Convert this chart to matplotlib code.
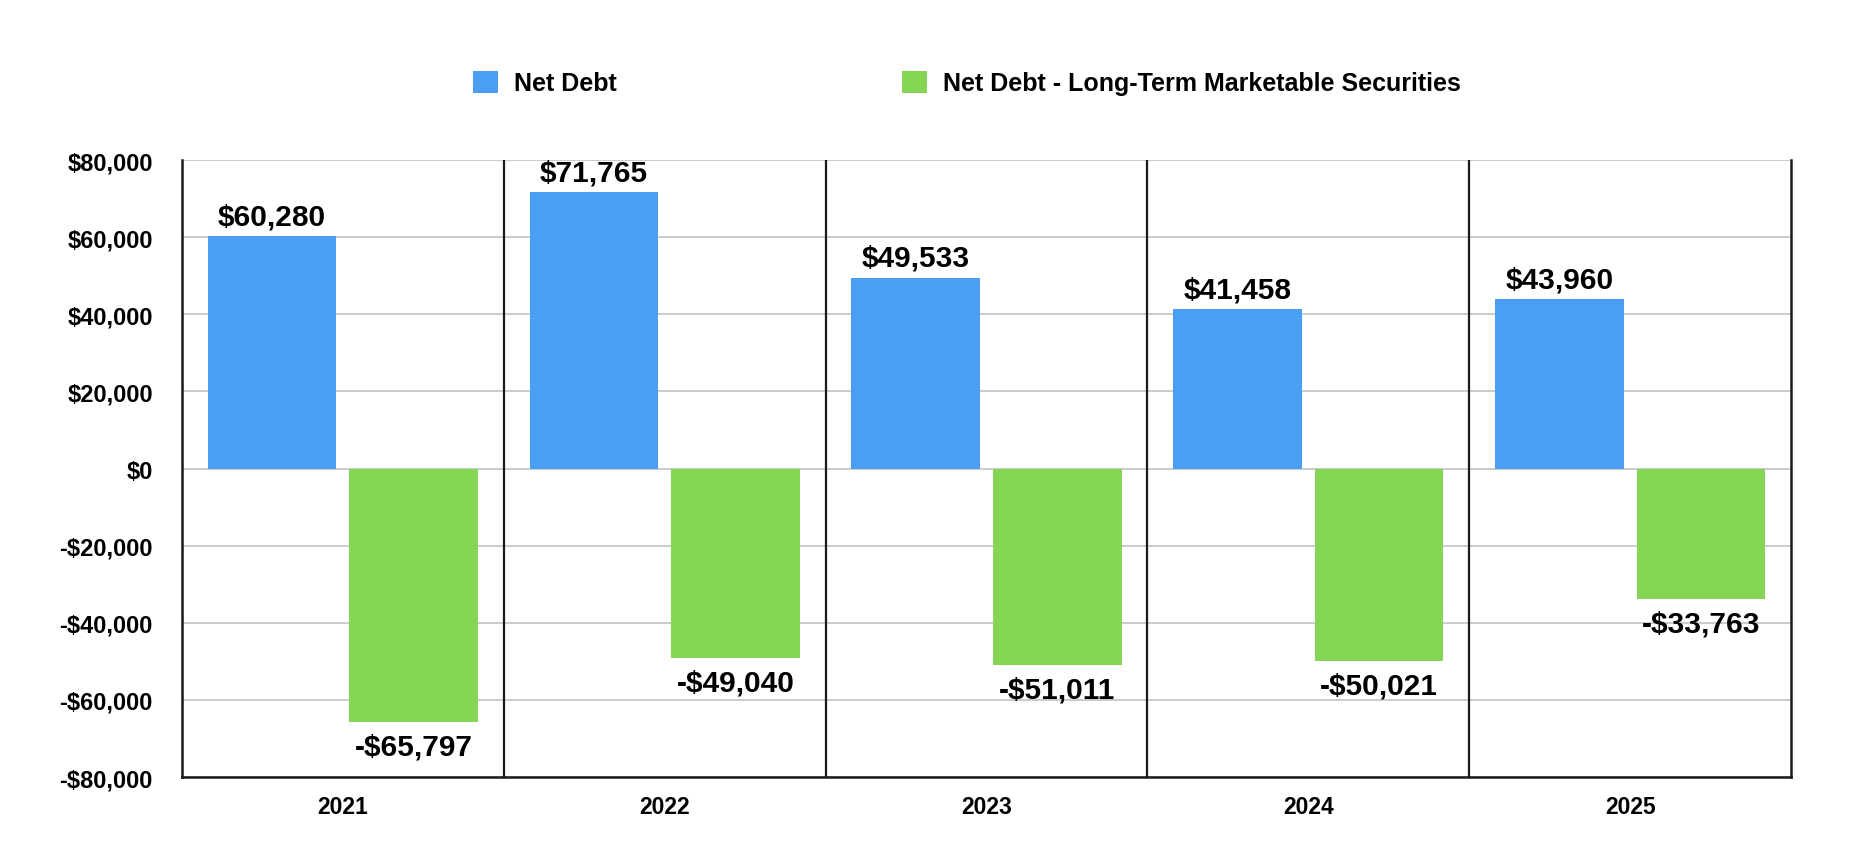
import matplotlib
matplotlib.use("Agg")
import matplotlib.pyplot as plt
import numpy as np

plt.rcParams['font.family'] = ['Liberation Sans', 'DejaVu Sans']
plt.rcParams['font.weight'] = 'bold'

years = ['2021', '2022', '2023', '2024', '2025']
net_debt = [60280, 71765, 49533, 41458, 43960]
net_debt_lt = [-65797, -49040, -51011, -50021, -33763]
series_names = ['Net Debt', 'Net Debt - Long-Term Marketable Securities']
yticks = [-80000, -60000, -40000, -20000, 0, 20000, 40000, 60000, 80000]

blue = '#4A9FF5'
green = '#84D654'

def money(v):
    if v < 0:
        return '-${:,}'.format(-v)
    return '${:,}'.format(v)

fig = plt.figure(figsize=(18.76, 8.62), dpi=100)
ax = fig.add_axes([0.0970, 0.0974, 0.8577, 0.7158])

x = np.arange(len(years))
w = 0.40
b1 = ax.bar(x - 0.22, net_debt, w, color=blue, zorder=3, label=series_names[0])
b2 = ax.bar(x + 0.22, net_debt_lt, w, color=green, zorder=3, label=series_names[1])

for bars, vals in ((b1, net_debt), (b2, net_debt_lt)):
    for r, v in zip(bars, vals):
        cx = r.get_x() + r.get_width() / 2
        if v >= 0:
            ax.annotate(money(v), (cx, v), xytext=(0, 4), textcoords='offset points',
                        ha='center', va='bottom', fontsize=21.5, fontweight='bold')
        else:
            ax.annotate(money(v), (cx, v), xytext=(0, -7.5), textcoords='offset points',
                        ha='center', va='top', fontsize=21.5, fontweight='bold')

ax.set_xlim(-0.5, len(years) - 0.5)
ax.set_ylim(-80000, 80000)
ax.set_yticks(yticks)
ax.set_yticklabels([money(v) for v in yticks], fontsize=17, fontweight='bold')
ax.set_xticks(x)
ax.set_xticklabels(years, fontsize=16.5, fontweight='bold')
ax.tick_params(axis='both', length=0)
ax.tick_params(axis='y', pad=21)
ax.tick_params(axis='x', pad=13)

ax.yaxis.grid(True, color='#bdbdbd', linewidth=1.1, zorder=0)
ax.set_axisbelow(True)
for xs in np.arange(0.5, len(years) - 1, 1.0):
    ax.axvline(xs, color='#1a1a1a', linewidth=1.6, zorder=4)

ax.spines['top'].set_visible(False)
for s in ('left', 'right', 'bottom'):
    ax.spines[s].set_color('#1a1a1a')
    ax.spines[s].set_linewidth(1.8)

leg = fig.legend(handles=[b1, b2], loc='center left', bbox_to_anchor=(473 / 1876, 1 - 84 / 862),
                 ncol=2, frameon=False, fontsize=18, handlelength=1.0, handleheight=1.0,
                 handletextpad=0.64, columnspacing=11.4, borderpad=0, borderaxespad=0)
for t in leg.get_texts():
    t.set_fontweight('bold')

fig.savefig('out.png', dpi=100)
